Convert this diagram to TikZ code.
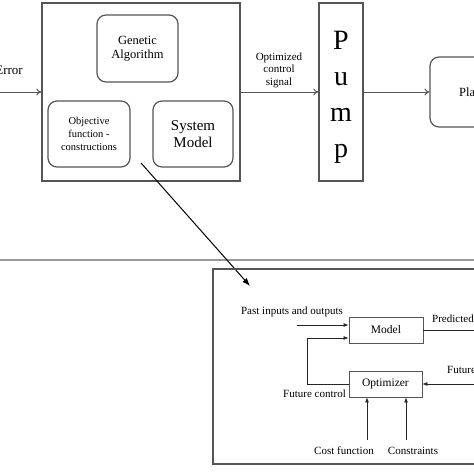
\documentclass[tikz,border=0pt]{standalone}
\usepackage{fontspec}
\setmainfont{Liberation Serif}
\usetikzlibrary{arrows.meta,positioning}
\definecolor{LineGray}{HTML}{555555}
\definecolor{SepGray}{HTML}{9A9A9A}

\begin{document}
\begin{tikzpicture}[
    x=1pt, y=-1pt,
    outerbox/.style={draw=LineGray, line width=1.4pt, inner sep=0pt},
    roundbox/.style={draw=LineGray, line width=1.2pt, rounded corners=9pt,
                     align=center, inner sep=0pt},
    mpcbox/.style={draw=LineGray, line width=0.8pt, inner sep=0pt,
                   font=\fontsize{11.5}{13}\selectfont},
    smalltext/.style={font=\fontsize{11}{12.5}\selectfont, align=center, inner sep=1pt},
    mpctext/.style={font=\fontsize{11}{13}\selectfont, inner sep=1pt},
    openarrow/.style={-{To[length=5pt,width=7pt]}, draw=LineGray, line width=1pt},
    flowarrow/.style={-{Latex[length=5pt,width=4pt]}, draw=black!85, line width=0.8pt},
    zoomarrow/.style={-{Latex[length=8pt,width=6pt]}, line width=1pt}
]
\useasboundingbox (0,0) rectangle (474,474);
\clip (0,0) rectangle (474,474);

% upper loop
\node[outerbox, minimum width=198pt, minimum height=178pt] (ctrl) at (141,92) {};
\node[roundbox, minimum width=81pt, minimum height=67pt,
      font=\fontsize{12.5}{14}\selectfont] (ga) at (137.5,48.5) {Genetic\\Algorithm};
\node[roundbox, minimum width=82pt, minimum height=66pt,
      font=\fontsize{10.5}{13}\selectfont] (objfun) at (89,134) {Objective\\function -\\constructions};
\node[roundbox, minimum width=80pt, minimum height=66pt,
      font=\fontsize{15}{17}\selectfont] (sysmodel) at (193,134) {System\\Model};
\node[outerbox, minimum width=44pt, minimum height=178pt] (pump) at (341,92) {};
\node[font=\fontsize{28}{36}\selectfont, align=center] (pumptext) at (341,97) {P\\u\\m\\p};
\node[roundbox, minimum width=84pt, minimum height=70pt,
      font=\fontsize{12.5}{14}\selectfont] (plant) at (472,92) {Plant};

\node[font=\fontsize{13}{15}\selectfont, anchor=east, inner sep=0pt] (err) at (23,70) {Error};
\node[smalltext] (optsig) at (279,70) {Optimized\\control\\signal};

\coordinate (errin) at (-5,92);
\draw[openarrow] (errin) -- (ctrl.west);
\draw[openarrow] (ctrl.east) -- (pump.west);
\draw[openarrow] (pump.east) -- (plant.west);

% separator and zoom
\coordinate (sepL) at (0,260);
\coordinate (sepR) at (474,260);
\draw[SepGray, line width=1.2pt] (sepL) -- (sepR);
\coordinate (zoomstart) at (141,163);
\coordinate (zoomend) at (250,286);
\draw[zoomarrow] (zoomstart) -- (zoomend);

% lower detail
\node[outerbox, line width=1.2pt, minimum width=290pt, minimum height=195pt] (mpc) at (358,366.5) {};
\node[mpcbox, minimum width=74pt, minimum height=26pt] (model) at (386,330) {Model};
\node[mpcbox, minimum width=73pt, minimum height=26pt] (optim) at (385.5,384) {Optimizer};

\node[mpctext] (pastio) at (292,312) {Past inputs and outputs};
\node[mpctext, anchor=east] (futctrl) at (347,394) {Future control};
\node[mpctext, anchor=west] (predout) at (431,320) {Predicted outputs};
\node[mpctext, anchor=west] (futerr) at (446,370) {Future errors};
\node[mpctext] (costfn) at (344,451) {Cost function};
\node[mpctext] (constr) at (413,451) {Constraints};

\coordinate (pastin) at (297,325);
\coordinate (fbturn) at (307,338);
\coordinate (predend) at (480,330);
\coordinate (errend) at (480,384);
\coordinate (costin) at (367,440);
\coordinate (constrin) at (406,440);

\draw[flowarrow] (pastin) -- (model.west |- pastin);
\draw[flowarrow] (optim.west) -- (optim.west -| fbturn) -- (fbturn) -- (model.west |- fbturn);
\draw[draw=black!85, line width=0.8pt] (model.east) -- (predend);
\draw[flowarrow] (errend) -- (optim.east);
\draw[flowarrow] (costin) -- (costin |- optim.south);
\draw[flowarrow] (constrin) -- (constrin |- optim.south);
\end{tikzpicture}
\end{document}
